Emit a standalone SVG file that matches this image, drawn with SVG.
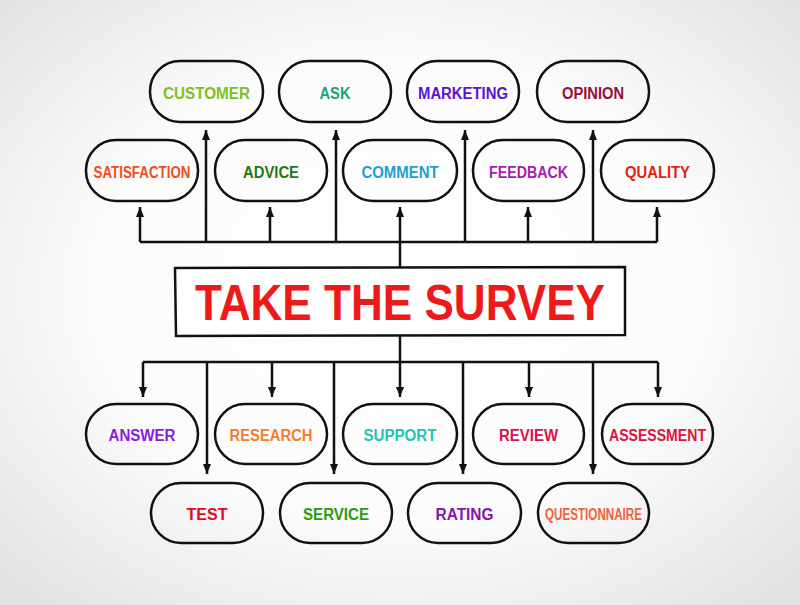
<svg xmlns="http://www.w3.org/2000/svg" width="800" height="605" viewBox="0 0 800 605">
<defs>
<radialGradient id="bg" cx="50%" cy="48%" r="70%">
<stop offset="0" stop-color="#ffffff"/>
<stop offset="0.55" stop-color="#fbfbfb"/>
<stop offset="1" stop-color="#e2e2e4"/>
</radialGradient>
<marker id="ah" viewBox="0 0 10 8" refX="10" refY="4" markerWidth="10" markerHeight="8" markerUnits="userSpaceOnUse" orient="auto">
<path d="M0,0 L10,4 L0,8 z" fill="#111"/>
</marker>
<style>
.pill{fill:none;stroke:#111;stroke-width:2.5}
.lbl{font-family:"Liberation Sans",Arial,sans-serif;font-weight:bold;font-size:16px;text-anchor:middle}
.ln{stroke:#111;stroke-width:2.5;fill:none}
.ar{stroke:#111;stroke-width:2.5;fill:none;marker-end:url(#ah)}
.title{font-family:"Liberation Sans",Arial,sans-serif;font-weight:bold;font-size:50px;fill:#ee1a1a;text-anchor:middle}
</style>
</defs>
<rect width="800" height="605" fill="url(#bg)"/>

<g id="connectors">
<path class="ln" d="M140,242 H657"/>
<path class="ln" d="M400,268 V242"/>
<path class="ar" d="M140,242 V207"/>
<path class="ar" d="M206,242 V130"/>
<path class="ar" d="M270,242 V207"/>
<path class="ar" d="M336,242 V130"/>
<path class="ar" d="M400,242 V207"/>
<path class="ar" d="M465,242 V130"/>
<path class="ar" d="M528,242 V207"/>
<path class="ar" d="M593,242 V130"/>
<path class="ar" d="M657,242 V207"/>
<path class="ln" d="M143,362 H658"/>
<path class="ln" d="M400,335 V362"/>
<path class="ar" d="M143,362 V397"/>
<path class="ar" d="M207,362 V474"/>
<path class="ar" d="M272,362 V397"/>
<path class="ar" d="M334,362 V474"/>
<path class="ar" d="M400,362 V397"/>
<path class="ar" d="M463,362 V474"/>
<path class="ar" d="M529,362 V397"/>
<path class="ar" d="M593,362 V474"/>
<path class="ar" d="M658,362 V397"/>
</g>

<g id="center">
<path d="M175,268 L625,267 L625,335 L176,336 Z" fill="#fff" stroke="#111" stroke-width="2.5"/>
<text class="title" x="400" y="320" textLength="410" lengthAdjust="spacingAndGlyphs">TAKE THE SURVEY</text>
</g>

<g id="customer"><rect class="pill" x="150" y="61" width="113" height="61" rx="30"/><text class="lbl" x="206.5" y="99" fill="#7cc21c" textLength="87" lengthAdjust="spacingAndGlyphs">CUSTOMER</text></g>
<g id="ask"><rect class="pill" x="279" y="61" width="112" height="61" rx="30"/><text class="lbl" x="335" y="99" fill="#16a572" textLength="31" lengthAdjust="spacingAndGlyphs">ASK</text></g>
<g id="marketing"><rect class="pill" x="407" y="61" width="112" height="61" rx="30"/><text class="lbl" x="463" y="99" fill="#5a12d6" textLength="90" lengthAdjust="spacingAndGlyphs">MARKETING</text></g>
<g id="opinion"><rect class="pill" x="537" y="61" width="112" height="61" rx="30"/><text class="lbl" x="593" y="99" fill="#9a0c3c" textLength="62" lengthAdjust="spacingAndGlyphs">OPINION</text></g>

<g id="satisfaction"><rect class="pill" x="86" y="140" width="112" height="61" rx="30"/><text class="lbl" x="142" y="177.5" fill="#f04e1c" font-size="15" textLength="97" lengthAdjust="spacingAndGlyphs">SATISFACTION</text></g>
<g id="advice"><rect class="pill" x="215" y="140" width="112" height="61" rx="30"/><text class="lbl" x="271" y="177.5" fill="#1e7a18" textLength="56" lengthAdjust="spacingAndGlyphs">ADVICE</text></g>
<g id="comment"><rect class="pill" x="343" y="140" width="114" height="61" rx="30"/><text class="lbl" x="400" y="177.5" fill="#1c9ed8" textLength="77" lengthAdjust="spacingAndGlyphs">COMMENT</text></g>
<g id="feedback"><rect class="pill" x="473" y="140" width="111" height="61" rx="30"/><text class="lbl" x="528.5" y="177.5" fill="#a21eae" textLength="79" lengthAdjust="spacingAndGlyphs">FEEDBACK</text></g>
<g id="quality"><rect class="pill" x="601" y="140" width="113" height="61" rx="30"/><text class="lbl" x="657.5" y="177.5" fill="#e8200e" textLength="65" lengthAdjust="spacingAndGlyphs">QUALITY</text></g>

<g id="answer"><rect class="pill" x="86" y="404" width="112" height="60" rx="30"/><text class="lbl" x="142" y="441" fill="#8a1ae0" textLength="67" lengthAdjust="spacingAndGlyphs">ANSWER</text></g>
<g id="research"><rect class="pill" x="215" y="404" width="112" height="60" rx="30"/><text class="lbl" x="271" y="441" fill="#f57a32" textLength="83" lengthAdjust="spacingAndGlyphs">RESEARCH</text></g>
<g id="support"><rect class="pill" x="343" y="404" width="114" height="60" rx="30"/><text class="lbl" x="400" y="441" fill="#1ec4b6" textLength="73" lengthAdjust="spacingAndGlyphs">SUPPORT</text></g>
<g id="review"><rect class="pill" x="473" y="404" width="111" height="60" rx="30"/><text class="lbl" x="528.5" y="441" fill="#d8124c" textLength="59" lengthAdjust="spacingAndGlyphs">REVIEW</text></g>
<g id="assessment"><rect class="pill" x="602" y="404" width="111" height="60" rx="30"/><text class="lbl" x="657.5" y="441" fill="#e0123e" font-size="15" textLength="97" lengthAdjust="spacingAndGlyphs">ASSESSMENT</text></g>

<g id="test"><rect class="pill" x="151" y="483" width="112" height="60" rx="30"/><text class="lbl" x="207" y="520" fill="#e00a22" textLength="41" lengthAdjust="spacingAndGlyphs">TEST</text></g>
<g id="service"><rect class="pill" x="280" y="483" width="112" height="60" rx="30"/><text class="lbl" x="336" y="520" fill="#2a9a12" textLength="66" lengthAdjust="spacingAndGlyphs">SERVICE</text></g>
<g id="rating"><rect class="pill" x="408" y="483" width="113" height="60" rx="30"/><text class="lbl" x="464.5" y="520" fill="#8a12a8" textLength="58" lengthAdjust="spacingAndGlyphs">RATING</text></g>
<g id="questionnaire"><rect class="pill" x="538" y="483" width="111" height="60" rx="30"/><text class="lbl" x="593.5" y="519.5" fill="#f0623c" font-size="14" textLength="97" lengthAdjust="spacingAndGlyphs">QUESTIONNAIRE</text></g>
</svg>
